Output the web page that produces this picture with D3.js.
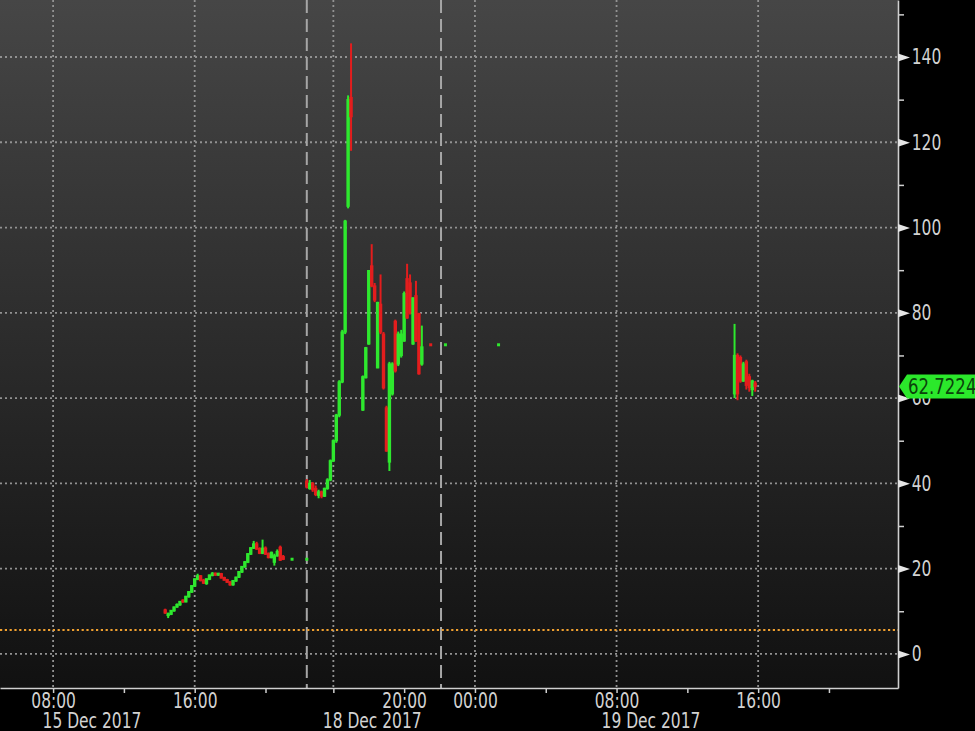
<!DOCTYPE html>
<html>
<head>
<meta charset="utf-8">
<script src="https://cdn.jsdelivr.net/npm/d3@7"></script>
<style>
    html, body { margin: 0; padding: 0; background: #000; }
    svg { display: block; }
    .lbl text { font-family: "Liberation Sans Narrow", "DejaVu Sans Condensed", sans-serif; font-size: 20px; fill: #d2d2d2; }
</style>
</head>
<body>
<svg id="chart" width="975" height="731"></svg>
<script>
// 10 minute bars, rows are [open, high, low, close], null = no trade
var dec15Start = '2017-12-15T14:20';
var dec15Bars = [
    [10.3, 10.6, 9.4, 9.6], [9.0, 9.7, 8.4, 9.4], [9.3, 10.3, 9.1, 10.2], [10.1, 11.1, 9.9, 11.0],
    [11.0, 11.8, 10.8, 11.6], [11.5, 12.4, 11.3, 12.3], [12.6, 12.8, 12.0, 12.2], [12.2, 13.6, 12.1, 13.5],
    [13.4, 14.7, 13.2, 14.6], [14.5, 16.1, 14.3, 16.0], [15.9, 17.7, 15.7, 17.6], [17.5, 18.8, 17.3, 18.3],
    [18.3, 18.5, 17.0, 17.2], [17.3, 17.6, 16.4, 16.6], [16.5, 17.7, 16.2, 17.6], [17.5, 18.6, 17.3, 18.5],
    [18.4, 19.2, 18.2, 18.9], [18.9, 19.1, 18.3, 18.5], [18.5, 19.0, 18.3, 18.9], [18.8, 19.0, 17.7, 17.8],
    [17.9, 18.1, 17.2, 17.3], [17.4, 17.6, 16.7, 16.8], [16.9, 17.0, 16.0, 16.2], [16.2, 17.3, 16.0, 17.2],
    [17.1, 18.1, 16.9, 18.0], [18.0, 19.4, 17.8, 19.3], [19.2, 20.6, 19.0, 20.5], [20.4, 21.8, 20.2, 21.6],
    [21.5, 23.6, 21.3, 23.5], [23.4, 25.0, 23.2, 24.9], [24.8, 26.5, 24.6, 25.8], [25.8, 26.3, 24.4, 24.6],
    [24.7, 25.0, 23.4, 23.6], [23.6, 26.8, 23.4, 24.8], [24.8, 25.2, 23.2, 23.4], [23.5, 23.8, 22.4, 22.6],
    [22.6, 24.0, 22.4, 23.8], [21.5, 23.5, 20.7, 23.0], [23.0, 24.5, 22.8, 24.0], [25.0, 25.4, 21.8, 22.0],
    [22.8, 23.2, 22.0, 22.2]
];

var dec18Start = '2017-12-18T14:30';
var dec18Bars = [
    [40.5, 41.0, 38.8, 39.2], [38.8, 40.8, 38.5, 40.0], [40.0, 40.3, 38.0, 38.5], [38.8, 39.5, 37.0, 37.4],
    [37.2, 38.5, 36.5, 38.0], [38.0, 38.3, 36.5, 37.0], [37.0, 39.0, 36.8, 38.8], [38.8, 41.2, 38.5, 40.8],
    [40.8, 45.6, 40.5, 45.3], [45.3, 50.3, 45.0, 50.0], [50.0, 56.3, 49.5, 56.0], [56.0, 64.2, 55.5, 63.8],
    [63.8, 76.0, 63.5, 75.5], [75.5, 101.8, 75.0, 101.5], [105.0, 131.0, 104.5, 130.0], [130.5, 143.2, 118.0, 126.0],
    null, null, null,
    [57.2, 65.3, 57.0, 65.0], [64.8, 72.0, 64.6, 71.8], [72.7, 90.0, 72.5, 89.9], [91.0, 96.1, 86.0, 86.3],
    [86.3, 87.0, 82.5, 83.0], [67.1, 82.6, 67.0, 82.4], [82.0, 89.0, 75.0, 75.5], [75.0, 75.5, 62.0, 62.4],
    [57.7, 58.2, 47.4, 47.6], [45.0, 68.5, 42.9, 68.0], [61.0, 68.4, 60.6, 68.0], [78.0, 78.4, 66.0, 66.4],
    [68.0, 75.6, 67.5, 75.0], [70.0, 76.0, 69.5, 75.0], [73.4, 85.0, 73.2, 84.5], [88.0, 91.5, 78.6, 78.8],
    [87.0, 89.0, 79.6, 80.0], [72.7, 83.6, 72.5, 83.5], [84.0, 87.5, 73.2, 73.4], [79.8, 80.0, 65.5, 65.7],
    [68.0, 77.0, 67.6, 72.0]
];

var dec19Start = '2017-12-19T14:40';
var dec19Bars = [
    [61.0, 77.4, 60.0, 70.0], [70.0, 70.5, 59.5, 61.0], [69.5, 70.0, 63.6, 64.0], [64.0, 68.5, 63.8, 68.0],
    [68.5, 69.0, 62.0, 63.0], [65.0, 65.7, 61.5, 62.5], [62.0, 64.3, 60.5, 64.0], [63.5, 64.0, 61.5, 62.7224]
];

// single prints between sessions
var loneTimes = ['2017-12-15T21:30', '2017-12-15T22:20', '2017-12-18T21:30', '2017-12-18T22:20', '2017-12-19T01:20'];
var lonePrices = [22.2, 22.2, 72.5, 72.5, 72.5];
var loneUp = [true, true, false, true, true];

var lastPrice = 62.7224;
var refLevel = 5.6;

var yTicks = [0, 20, 40, 60, 80, 100, 120, 140];
var yMinorTicks = [10, 30, 50, 70, 90, 110, 130, 150];

var timeLabelTimes = ['2017-12-15T08:00', '2017-12-15T16:00', '2017-12-18T20:00', '2017-12-19T00:00', '2017-12-19T08:00', '2017-12-19T16:00'];
var gridTimes = ['2017-12-15T08:00', '2017-12-15T16:00', '2017-12-18T16:00', '2017-12-19T00:00', '2017-12-19T08:00', '2017-12-19T16:00'];
var minorTimes = ['2017-12-15T08:00', '2017-12-15T12:00', '2017-12-15T16:00', '2017-12-15T20:00', '2017-12-18T16:00', '2017-12-18T20:00',
    '2017-12-19T00:00', '2017-12-19T04:00', '2017-12-19T08:00', '2017-12-19T12:00', '2017-12-19T16:00', '2017-12-19T20:00'];
var dateLabels = ['15 Dec 2017', '18 Dec 2017', '19 Dec 2017'];
var dateLabelTimes = ['2017-12-15T10:10', '2017-12-18T18:10', '2017-12-19T09:55'];
var separatorTimes = ['2017-12-15T22:20', '2017-12-18T22:05'];

var parseTime = d3.timeParse('%Y-%m-%dT%H:%M');

var W = 898, H = 688;
var pxPerHour = 17.7;
var narrow = 'scale(0.86,1.05)';
var t0 = parseTime('2017-12-15T05:00');
var gapStart = parseTime('2017-12-15T22:20');
var gapEnd = parseTime('2017-12-18T14:30');
var xGap = (gapStart - t0) / 36e5 * pxPerHour;
var tEnd = new Date(+gapEnd + (W - xGap) / pxPerHour * 36e5);

var x = d3.scaleTime()
    .domain([t0, gapStart, gapEnd, tEnd])
    .range([0, xGap, xGap, W]);

var y = d3.scaleLinear()
    .domain([-8, 153.37])
    .range([H, 0]);

var svg = d3.select('#chart');

var defs = svg.append('defs');
var grad = defs.append('linearGradient')
    .attr('id', 'bg')
    .attr('x1', 0).attr('y1', 0).attr('x2', 0).attr('y2', 1);
grad.append('stop').attr('offset', '0%').attr('stop-color', '#464646');
grad.append('stop').attr('offset', '100%').attr('stop-color', '#111111');

defs.append('clipPath').attr('id', 'clip')
    .append('rect').attr('width', W).attr('height', H);

svg.append('rect')
    .attr('width', W).attr('height', H)
    .attr('fill', 'url(#bg)');

var plot = svg.append('g').attr('clip-path', 'url(#clip)');

// grid
plot.selectAll('.hgrid')
    .data(yTicks)
    .enter().append('line')
    .attr('x1', 0).attr('x2', W)
    .attr('y1', function (d) { return y(d); })
    .attr('y2', function (d) { return y(d); })
    .attr('stroke', '#929292')
    .attr('stroke-width', 1.8)
    .attr('stroke-dasharray', '2 3');

plot.selectAll('.vgrid')
    .data(gridTimes)
    .enter().append('line')
    .attr('x1', function (d) { return x(parseTime(d)); })
    .attr('x2', function (d) { return x(parseTime(d)); })
    .attr('y1', 0).attr('y2', H)
    .attr('stroke', '#929292')
    .attr('stroke-width', 1.8)
    .attr('stroke-dasharray', '2 3');

plot.selectAll('.sep')
    .data(separatorTimes)
    .enter().append('line')
    .attr('x1', function (d) { return x(parseTime(d)); })
    .attr('x2', function (d) { return x(parseTime(d)); })
    .attr('y1', 0).attr('y2', H)
    .attr('stroke', '#a6a6a6')
    .attr('stroke-width', 2)
    .attr('stroke-dasharray', '13 6');

plot.append('line')
    .attr('x1', 0).attr('x2', W)
    .attr('y1', y(refLevel)).attr('y2', y(refLevel))
    .attr('stroke', '#f0a030')
    .attr('stroke-width', 2.2)
    .attr('stroke-dasharray', '2.2 2.6');

// bars
var bars = [];
function addSession(start, rows) {
    var first = parseTime(start);
    rows.forEach(function (r, i) {
        if (!r) {
            return;
        }
        bars.push({ t: d3.timeMinute.offset(first, 10 * i), o: r[0], h: r[1], l: r[2], c: r[3] });
    });
}
addSession(dec15Start, dec15Bars);
addSession(dec18Start, dec18Bars);
addSession(dec19Start, dec19Bars);

var green = '#2ee82e', red = '#e31d1d';
function barColor(d) { return d.c >= d.o ? green : red; }

var bar = plot.selectAll('.bar')
    .data(bars)
    .enter().append('g');

bar.append('line')
    .attr('x1', function (d) { return x(d.t); })
    .attr('x2', function (d) { return x(d.t); })
    .attr('y1', function (d) { return y(d.h); })
    .attr('y2', function (d) { return y(d.l); })
    .attr('stroke', barColor)
    .attr('stroke-width', 2);

bar.append('rect')
    .attr('x', function (d) { return x(d.t) - 1.7; })
    .attr('width', 3.4)
    .attr('y', function (d) { return y(Math.max(d.o, d.c)) - 0.6; })
    .attr('height', function (d) { return Math.max(2.4, Math.abs(y(d.o) - y(d.c)) + 1.2); })
    .attr('fill', barColor);

plot.selectAll('.lone')
    .data(loneTimes)
    .enter().append('rect')
    .attr('x', function (d) { return x(parseTime(d)) - 1.5; })
    .attr('y', function (d, i) { return y(lonePrices[i]) - 1.5; })
    .attr('width', 3).attr('height', 3)
    .attr('fill', function (d, i) { return loneUp[i] ? green : red; });

// right axis
var yMinor = svg.append('g')
    .attr('transform', 'translate(' + W + ',0)')
    .call(d3.axisRight(y).tickValues(yMinorTicks).tickSize(6).tickSizeOuter(0).tickFormat(''));
yMinor.selectAll('line').attr('stroke', '#cfcfcf').attr('stroke-width', 1.5);
yMinor.select('.domain').attr('stroke', '#cfcfcf').attr('stroke-width', 1.6);

var yAxis = svg.append('g')
    .attr('class', 'lbl')
    .attr('transform', 'translate(' + W + ',0)')
    .call(d3.axisRight(y).tickValues(yTicks).tickSize(0).tickPadding(16));
yAxis.select('.domain').remove();
yAxis.selectAll('text').attr('transform', narrow);
yAxis.selectAll('.tick').append('path')
    .attr('d', 'M0,-4L12,0L0,4Z')
    .attr('fill', '#e6e6e6');

// bottom axis
var xMinor = svg.append('g')
    .attr('transform', 'translate(0,' + H + ')')
    .call(d3.axisBottom(x).tickValues(minorTimes.map(parseTime)).tickSize(5).tickSizeOuter(0).tickFormat(''));
xMinor.selectAll('line').attr('stroke', '#cfcfcf').attr('stroke-width', 1.5);
xMinor.select('.domain').attr('stroke', '#cfcfcf').attr('stroke-width', 1.6);

var xAxis = svg.append('g')
    .attr('class', 'lbl')
    .attr('transform', 'translate(0,' + H + ')')
    .call(d3.axisBottom(x).tickValues(timeLabelTimes.map(parseTime)).tickSize(0).tickPadding(5)
        .tickFormat(d3.timeFormat('%H:%M')));
xAxis.select('.domain').remove();
xAxis.selectAll('text').attr('transform', narrow);

var dateAxis = svg.append('g')
    .attr('class', 'lbl')
    .attr('transform', 'translate(0,' + H + ')')
    .call(d3.axisBottom(x).tickValues(dateLabelTimes.map(parseTime)).tickSize(0).tickPadding(24)
        .tickFormat(function (d, i) { return dateLabels[i]; }));
dateAxis.select('.domain').remove();
dateAxis.selectAll('text').attr('transform', narrow);

// last price tag
var yp = y(lastPrice);
var tag = svg.append('g').attr('class', 'lbl');
tag.append('path')
    .attr('d', 'M' + (W + 1) + ',' + yp + 'L' + (W + 9) + ',' + (yp - 12) + 'L980,' + (yp - 12) +
        'L980,' + (yp + 12) + 'L' + (W + 9) + ',' + (yp + 12) + 'Z')
    .attr('fill', '#2be82b');
tag.append('g')
    .attr('transform', 'translate(' + (W + 10) + ',' + yp + ')')
    .append('text')
    .attr('transform', 'scale(0.92,1.05)')
    .attr('dy', '0.36em')
    .style('fill', '#0b430b')
    .text(lastPrice.toFixed(4));
</script>
</body>
</html>
